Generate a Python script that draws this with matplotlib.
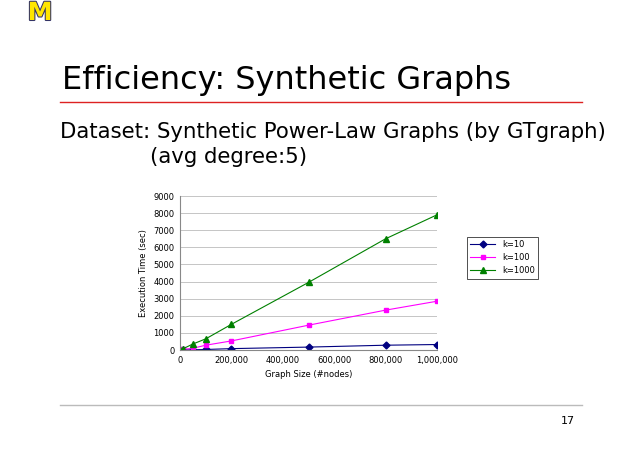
import matplotlib
matplotlib.use("Agg")
import matplotlib.pyplot as plt
import matplotlib.patheffects as pe
from matplotlib.ticker import FuncFormatter

x_nodes = [1000, 10000, 50000, 100000, 200000, 500000, 800000, 1000000]
k10 = [1, 5, 10, 30, 80, 170, 280, 320]
k100 = [5, 30, 100, 280, 530, 1450, 2330, 2850]
k1000 = [10, 60, 350, 650, 1500, 3950, 6500, 7900]

fig = plt.figure(figsize=(6.38, 4.51), dpi=100)
fig.patch.set_facecolor("white")

# slide decorations
fig.text(62/638, 1-80/451, "Efficiency: Synthetic Graphs", fontsize=23, va="center", ha="left", color="black")
fig.add_artist(plt.Line2D([60/638, 582/638], [1-102/451]*2, color="#dd2222", lw=1))
fig.text(60/638, 1-132/451, "Dataset: Synthetic Power-Law Graphs (by GTgraph)", fontsize=15.3, va="center")
fig.text(150/638, 1-157/451, "(avg degree:5)", fontsize=15.3, va="center")
fig.add_artist(plt.Line2D([60/638, 582/638], [1-405/451]*2, color="#bbbbbb", lw=1))
fig.text(575/638, 1-421/451, "17", fontsize=8, ha="right", va="center")
fig.text(40/638, 1-13/451, "M", fontsize=18, fontweight="bold", color="#ffe600", ha="center", va="center",
         path_effects=[pe.withStroke(linewidth=1.5, foreground="#333366")])

ax = fig.add_axes([180/638, 1-350/451, 257/638, 154/451])
ax.plot(x_nodes, k10, color="#000080", marker="D", markersize=3.5, lw=0.8, label="k=10")
ax.plot(x_nodes, k100, color="#ff00ff", marker="s", markersize=3.5, lw=0.8, label="k=100")
ax.plot(x_nodes, k1000, color="#008000", marker="^", markersize=4.5, lw=0.8, label="k=1000")
ax.set_xlim(0, 1000000)
ax.set_ylim(0, 9000)
ax.set_yticks(range(0, 9001, 1000))
ax.set_xticks(range(0, 1000001, 200000))
ax.xaxis.set_major_formatter(FuncFormatter(lambda v, p: f"{int(v):,}"))
ax.yaxis.grid(True, color="#bbbbbb", lw=0.6)
ax.set_axisbelow(True)
for s in ["top", "right"]:
    ax.spines[s].set_visible(False)
ax.spines["left"].set_color("#888888")
ax.spines["bottom"].set_color("#888888")
ax.tick_params(labelsize=6, length=0, pad=4)
ax.set_xlabel("Graph Size (#nodes)", fontsize=6)
ax.set_ylabel("Execution Time (sec)", fontsize=6)
leg = ax.legend(loc="center left", bbox_to_anchor=(1.1, 0.6), fontsize=6, frameon=True,
                fancybox=False, edgecolor="black", handlelength=3)
leg.get_frame().set_linewidth(0.6)

fig.savefig("out.png", dpi=100)
